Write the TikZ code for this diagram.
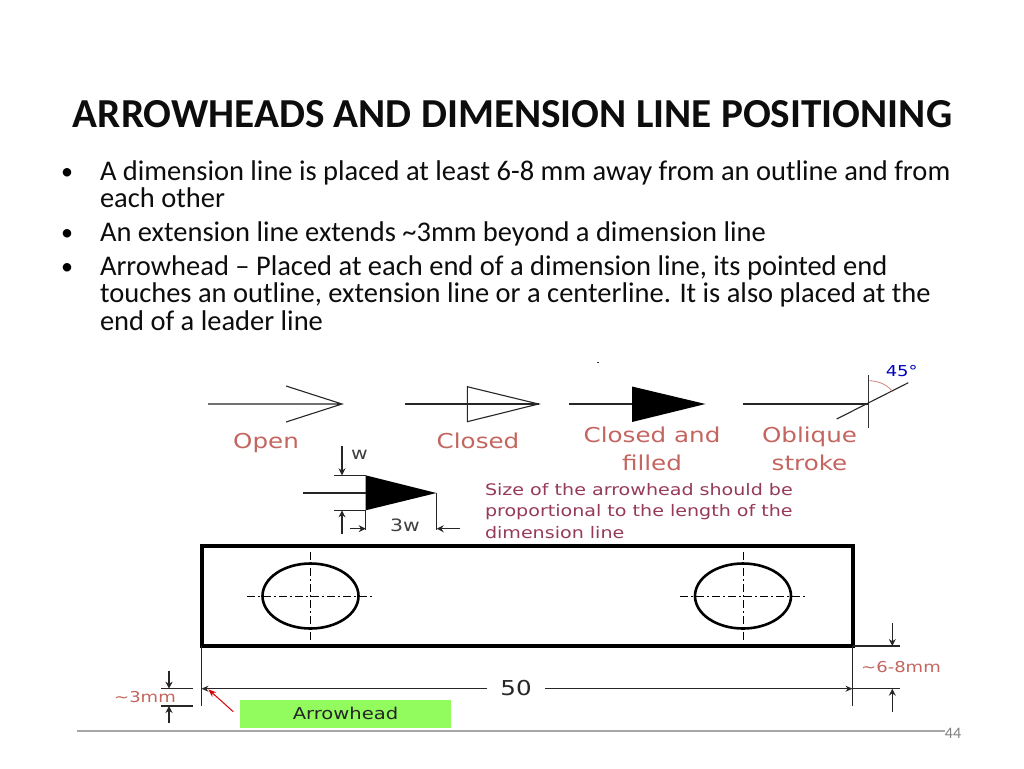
\documentclass[tikz,border=0pt]{standalone}
\usepackage{fontspec}
\setmainfont{Carlito}
\newfontfamily\lbl[FakeStretch=1.2]{DejaVu Sans}
\usetikzlibrary{arrows.meta,shapes.geometric}
\definecolor{lblred}{HTML}{C4655F}
\definecolor{notered}{HTML}{963A5A}
\definecolor{bargreen}{HTML}{92FB5E}
\definecolor{rulegray}{HTML}{A6A6A6}
\tikzset{
 every node/.style={inner sep=0pt,outer sep=0pt},
 ln/.style={line width=1.1pt,black!85},
 dimarrow/.style={line width=1.1pt,black!85,-{Stealth[length=7pt,width=7pt]}},
 lab/.style={font=\lbl\fontsize{20.5}{20.5}\selectfont,text=lblred},
 small/.style={font=\lbl\fontsize{17}{17}\selectfont,text=black!75},
 dimlab/.style={font=\lbl\fontsize{15}{15}\selectfont,text=lblred},
 bodytext/.style={anchor=north west,align=left,font=\fontsize{28.5}{27.5}\selectfont,text=black!95},
 bull/.style={anchor=center,font=\fontsize{24}{27.5}\selectfont},
 center line/.style={line width=1pt,dash pattern=on 8pt off 3pt on 2pt off 3pt},
 heavy/.style={line width=3.2pt,black},
 hole/.style={draw,ellipse,line width=2.6pt,minimum width=96pt,minimum height=65pt},
}
\begin{document}
\begin{tikzpicture}[x=1pt,y=-1pt]
\useasboundingbox (0,0) rectangle (1024,768);
\fill[white] (0,0) rectangle (1024,768);
% title + bullets
\node[font=\bfseries\fontsize{41.2}{42}\selectfont,text=black!95] (title) at (512.5,114) {ARROWHEADS AND DIMENSION LINE POSITIONING};
\node[bull] (b1) at (67,174.5) {•};
\node[bull] (b2) at (67,235) {•};
\node[bull] (b3) at (67,269.5) {•};
\node[bodytext] (t1) at (100,160.5) {A dimension line is placed at least 6-8 mm away from an outline and from\\each other};
\node[bodytext] (t2) at (100,221.5) {An extension line extends \char`~3mm beyond a dimension line};
\node[bodytext] (t3) at (100,255.5) {Arrowhead – Placed at each end of a dimension line, its pointed end\\touches an outline, extension line or a centerline. It is also placed at the\\end of a leader line};
% Open
\coordinate (o0) at (208,404); \coordinate (o1) at (342,404);
\draw[ln] (o0)--(o1) (286,386)--(o1)--(286,422);
\node[lab] (lo) at (266,443) {Open};
% Closed
\coordinate (c0) at (405,404); \coordinate (c1) at (538.5,404);
\draw[ln] (c0)--(c1);
\draw[ln] (467.3,386.7)--(c1)--(467.3,421.7)--cycle;
\node[lab] (lc) at (478,441) {Closed};
% Filled
\fill[black] (632,386.5)--(705.5,404)--(632,422)--cycle;
\coordinate (f0) at (569,404); \coordinate (f1) at (632,404);
\draw[ln] (f0)--(f1);
\node[lab] (lf1) at (652,435) {Closed and};
\node[lab] (lf2) at (652,463) {filled};
\fill[black!80] (596.5,362.2) rectangle (599,363.2);
% Oblique
\coordinate (s0) at (742.7,404); \coordinate (s1) at (868.5,404);
\draw[ln] (s0)--(s1);
\draw[line width=1.5pt,black!80] (868.7,375)--(868.7,428);
\draw[ln] (836.7,419)--(908.3,382.7);
\draw[line width=.8pt,lblred!80] (869.3,380.7) .. controls (879,381) and (888,385) .. (892.7,392);
\node[font=\lbl\fontsize{15}{15}\selectfont,text=blue!75!black] (deg) at (901.7,371) {45°};
\node[lab] (ls1) at (809.5,436.5) {Oblique};
\node[lab] (ls2) at (809.5,463) {stroke};
% w/3w figure
\fill[black] (365.7,475.3)--(436.5,493)--(365.7,510.3)--cycle;
\draw[ln] (303.3,493)--(365.7,493);
\draw[ln] (334,475.3)--(365.7,475.3) (334,510.3)--(365.7,510.3);
\draw[dimarrow] (342,446)--(342,475.3);
\draw[dimarrow] (342,534)--(342,510.3);
\draw[ln] (365.7,510.3)--(365.7,530);
\draw[ln] (436.7,493)--(436.7,530);
\draw[dimarrow] (350,528.7)--(365.7,528.7);
\draw[dimarrow] (460,528.7)--(436.7,528.7);
\node[small] (w) at (359.5,455) {w};
\node[small] (w3) at (405,525) {3w};
\node[anchor=west,align=left,font=\lbl\fontsize{15.9}{21.5}\selectfont,text=notered] (note) at (485,511) {Size of the arrowhead should be\\proportional to the length of the\\dimension line};
% plate
\draw[heavy] (202,546) rectangle (853,646);
\node[hole] (h1) at (310.5,596) {};
\node[hole] (h2) at (743,596) {};
\draw[center line] (247,596)--(373,596) (310.5,552)--(310.5,641);
\draw[center line] (680,596)--(805,596) (743,552)--(743,641);
% dimension
\coordinate (dl) at (201.5,688.7); \coordinate (dr) at (852.5,688.7);
\node[font=\lbl\fontsize{20.5}{20.5}\selectfont,text=black!85] (d50) at (516,688) {50};
\draw[ln] (201.5,646)--(201.5,706) (852.5,646)--(852.5,706);
\draw[line width=1.1pt,black!85,-{Stealth[length=7pt,width=6pt]}] (487,688.7)--(dl);
\draw[line width=1.1pt,black!85,-{Stealth[length=7pt,width=6pt]}] (545,688.7)--(dr);
% 6-8mm
\draw[ln] (853,646)--(900,646) (853,688.7)--(900,688.7);
\draw[dimarrow] (892.3,623)--(892.3,646);
\draw[dimarrow] (892.3,711.7)--(892.3,688.7);
\node[dimlab] (l68) at (901,667) {\char`~6-8mm};
% 3mm
\draw[ln] (161,688.7)--(192.7,688.7) (161,706)--(192.7,706);
\draw[dimarrow] (169,670.7)--(169,688.7);
\draw[dimarrow] (169,723)--(169,706);
\node[dimlab] (l3) at (145,697.5) {\char`~3mm};
% green label
\node[fill=bargreen,minimum width=211pt,minimum height=27.7pt,font=\lbl\fontsize{16.3}{16.3}\selectfont,text=black!85] (ah) at (345.5,713.9) {Arrowhead};
\coordinate (rs) at (233.3,711.7); \coordinate (re) at (208.3,689.3);
\draw[line width=1pt,red!85!black,-{Stealth[length=8pt,width=6pt]}] (rs)--(re);
% footer
\draw[rulegray,line width=1.6pt] (77,731)--(945,731);
\node[font=\fontsize{16}{16}\selectfont,text=black!50] (pg) at (953,733) {44};
\end{tikzpicture}
\end{document}
